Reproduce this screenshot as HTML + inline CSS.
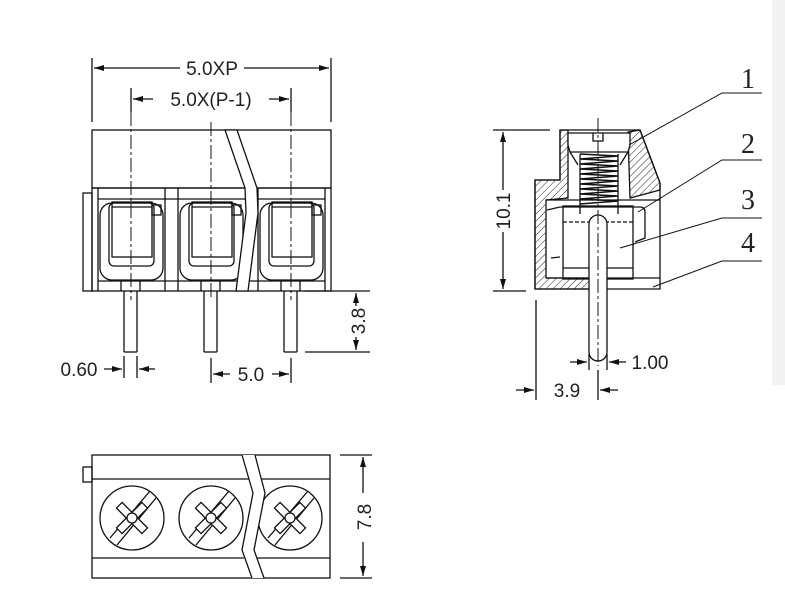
<!DOCTYPE html>
<html><head><meta charset="utf-8"><style>
html,body{margin:0;padding:0;background:#fff;}
svg{display:block;}
text{font-family:"Liberation Sans",sans-serif;fill:#222;}
</style></head><body>
<svg width="785" height="606" viewBox="0 0 785 606" xmlns="http://www.w3.org/2000/svg">
<defs>
<pattern id="h" width="5" height="5" patternUnits="userSpaceOnUse" patternTransform="rotate(45)">
<line x1="0" y1="0" x2="0" y2="5" stroke="#222" stroke-width="1"/>
</pattern>
<marker id="a" markerWidth="10" markerHeight="6" refX="10" refY="3" orient="auto" markerUnits="userSpaceOnUse">
<path d="M0,0 L10,3 L0,6 Z" fill="#111"/></marker>
</defs>
<rect x="772" y="0" width="13" height="385" fill="#f3f3f3"/>
<g fill="none" stroke="#111" stroke-width="1.3">
<!-- FRONT VIEW -->
<line x1="92" y1="58" x2="92" y2="122"/><line x1="331" y1="58" x2="331" y2="122"/>
<line x1="180" y1="68" x2="94" y2="68" marker-end="url(#a)"/><line x1="244" y1="68" x2="329" y2="68" marker-end="url(#a)"/>
<line x1="131" y1="88" x2="131" y2="112"/><line x1="291" y1="88" x2="291" y2="112"/>
<line x1="153" y1="99" x2="133" y2="99" marker-end="url(#a)"/><line x1="269" y1="99" x2="289" y2="99" marker-end="url(#a)"/>
<rect x="92" y="130" width="239" height="58"/>
<rect x="92" y="188" width="239" height="103"/>
<rect x="83" y="193" width="9" height="98"/>
<line x1="98" y1="199" x2="325" y2="199"/>
<line x1="98" y1="188" x2="98" y2="291"/><line x1="325" y1="188" x2="325" y2="291"/>
<line x1="165" y1="188" x2="165" y2="291"/><line x1="178" y1="188" x2="178" y2="291"/>
<line x1="258" y1="188" x2="258" y2="291"/>
<line x1="98" y1="281" x2="325" y2="281"/>
<g id="t">
<rect x="100" y="203" width="63" height="77" rx="12"/>
<rect x="109" y="203" width="45" height="63" rx="5"/>
<rect x="112" y="202" width="40" height="55"/>
<line x1="112" y1="207" x2="152" y2="207"/>
<rect x="152" y="205" width="9" height="10"/>
<line x1="124" y1="291" x2="124" y2="352"/><line x1="137" y1="291" x2="137" y2="352"/>
<line x1="124" y1="352" x2="137" y2="352"/>
<line x1="121" y1="281" x2="121" y2="291"/><line x1="140" y1="281" x2="140" y2="291"/>
</g>
<use href="#t" x="80"/><use href="#t" x="160"/>
<g stroke-dasharray="14,3,3,3" stroke-width="1">
<line x1="131" y1="112" x2="131" y2="300"/><line x1="211" y1="122" x2="211" y2="300"/><line x1="291" y1="112" x2="291" y2="300"/>
</g>
<polygon points="225,130 237,130 257,188 258,213 248,291 236,291 246,213 245,188" fill="#fff"/>
<line x1="305" y1="291" x2="370" y2="291"/><line x1="305" y1="352" x2="370" y2="352"/>
<line x1="356" y1="306" x2="356" y2="293" marker-end="url(#a)"/><line x1="356" y1="337" x2="356" y2="350" marker-end="url(#a)"/>
<line x1="124" y1="356" x2="124" y2="378"/><line x1="137" y1="356" x2="137" y2="378"/>
<line x1="104" y1="369" x2="122" y2="369" marker-end="url(#a)"/><line x1="155" y1="369" x2="139" y2="369" marker-end="url(#a)"/>
<line x1="211" y1="358" x2="211" y2="383"/><line x1="291" y1="358" x2="291" y2="383"/>
<line x1="230" y1="374" x2="213" y2="374" marker-end="url(#a)"/><line x1="272" y1="374" x2="289" y2="374" marker-end="url(#a)"/>
<!-- SIDE VIEW -->
<polygon points="560,130 568,130 568,198 546,200 546,278 590,278 590,289 535,289 535,180 560,180" fill="url(#h)"/>
<polygon points="628,132 640,130 660,183 660,190 630,198" fill="url(#h)"/>
<path d="M560,130 H640 L660,183 V289 H535 V180 H560 Z"/>
<line x1="546" y1="200" x2="660" y2="200"/>
<line x1="546" y1="278" x2="660" y2="278"/>
<line x1="590" y1="278" x2="590" y2="289"/>
<path d="M568,133 H630 V145 L628,152 H570 L568,145 Z" fill="#fff"/>
<path d="M593,133 v8 h10 v-8"/>
<line x1="570" y1="152" x2="578" y2="165"/><line x1="628" y1="152" x2="620" y2="165"/>
<path d="M580,154 L618,156 L580,159 L618,161 L580,164 L618,166 L580,169 L618,171 L580,174 L618,176 L580,179 L618,181 L580,184 L618,186 L580,189 L618,191 L580,194 L618,196 L580,199 L618,201 L580,204" stroke-width="1.5"/>
<line x1="580" y1="154" x2="580" y2="214"/><line x1="618" y1="154" x2="618" y2="214"/>
<rect x="563" y="206" width="70" height="73"/>
<path d="M547,210 L560,207 H640 q5,0 5,5 V238 L635,242"/>
<line x1="563" y1="222" x2="633" y2="222" stroke-dasharray="4,2"/>
<line x1="563" y1="268" x2="633" y2="268"/>
<line x1="551" y1="258" x2="560" y2="257"/>
<path d="M589,352 V224 a9,9 0 0 1 18,0 V352 a9,9 0 0 1 -18,0 Z" fill="#fff"/>
<line x1="598" y1="118" x2="598" y2="366" stroke-dasharray="14,3,3,3" stroke-width="1"/>
<line x1="493" y1="130" x2="550" y2="130"/><line x1="493" y1="291" x2="526" y2="291"/>
<line x1="503" y1="190" x2="503" y2="132" marker-end="url(#a)"/><line x1="503" y1="232" x2="503" y2="289" marker-end="url(#a)"/>
<line x1="589" y1="354" x2="589" y2="370"/><line x1="607" y1="354" x2="607" y2="370"/>
<line x1="570" y1="362" x2="587" y2="362" marker-end="url(#a)"/><line x1="626" y1="362" x2="609" y2="362" marker-end="url(#a)"/>
<line x1="536" y1="300" x2="536" y2="400"/><line x1="598" y1="370" x2="598" y2="400"/>
<line x1="516" y1="390" x2="534" y2="390" marker-end="url(#a)"/><line x1="618" y1="390" x2="600" y2="390" marker-end="url(#a)"/>
<polyline points="762,93 722,93 629,145" stroke-width="1"/>
<polyline points="762,160 722,160 638,212" stroke-width="1"/>
<polyline points="762,218 722,218 620,248" stroke-width="1"/>
<polyline points="762,261 722,261 653,287" stroke-width="1"/>
<!-- TOP VIEW -->
<rect x="92" y="455" width="238" height="123"/>
<line x1="92" y1="479" x2="330" y2="479"/><line x1="92" y1="558" x2="330" y2="558"/>
<rect x="83" y="467" width="9" height="15"/>
<g id="s"><circle cx="132" cy="518" r="32"/>
<line x1="110" y1="538" x2="150" y2="491"/><line x1="117" y1="545" x2="156" y2="498"/>
<path d="M-4,-18 H4 V-4 H18 V4 H4 V18 H-4 V4 H-18 V-4 H-4 Z" fill="#fff" transform="translate(132,518) rotate(45)"/>
<circle cx="132" cy="518" r="5" fill="#fff"/></g>
<use href="#s" x="79"/><use href="#s" x="158"/>
<polygon points="242,455 255,455 265,493 254,550 264,578 251,578 241,550 253,493" fill="#fff" stroke="none"/>
<polyline points="242,455 253,493 242,550 252,578"/>
<polyline points="255,455 265,493 254,550 264,578"/>
<line x1="340" y1="455" x2="372" y2="455"/><line x1="340" y1="578" x2="372" y2="578"/>
<line x1="363" y1="493" x2="363" y2="457" marker-end="url(#a)"/><line x1="363" y1="542" x2="363" y2="576" marker-end="url(#a)"/>
</g>
<g font-size="19">
<text x="212" y="75" text-anchor="middle">5.0XP</text>
<text x="211" y="106" text-anchor="middle">5.0X(P-1)</text>
<text x="79" y="376" text-anchor="middle">0.60</text>
<text x="251" y="381" text-anchor="middle">5.0</text>
<text transform="translate(365,321) rotate(-90)" text-anchor="middle">3.8</text>
<text transform="translate(510,211) rotate(-90)" text-anchor="middle">10.1</text>
<text x="650" y="369" text-anchor="middle">1.00</text>
<text x="567" y="397" text-anchor="middle">3.9</text>
<text transform="translate(371,517) rotate(-90)" text-anchor="middle">7.8</text>
</g>
<g font-size="28">
<text x="748" y="88" text-anchor="middle" style="font-family:'Liberation Serif',serif">1</text>
<text x="748" y="153" text-anchor="middle" style="font-family:'Liberation Serif',serif">2</text>
<text x="748" y="209" text-anchor="middle" style="font-family:'Liberation Serif',serif">3</text>
<text x="748" y="252" text-anchor="middle" style="font-family:'Liberation Serif',serif">4</text>
</g>
</svg>
</body></html>
